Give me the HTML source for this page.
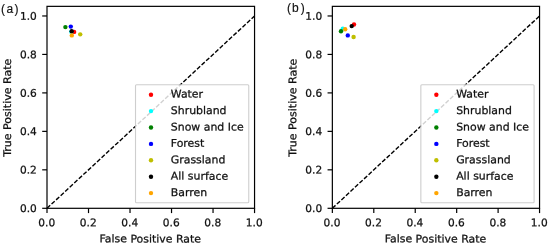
<!DOCTYPE html>
<html lang="en"><head><meta charset="utf-8"><title>ROC scatter</title>
<style>
html,body{margin:0;padding:0;background:#fff;}
body{width:550px;height:246px;overflow:hidden;}
svg{display:block;}
.t{font-family:"DejaVu Sans","Liberation Sans",sans-serif;font-size:10.55px;fill:#111;stroke:#111;stroke-width:0.25px;text-rendering:geometricPrecision;}
.p{font-family:"Liberation Sans",sans-serif;font-size:12px;fill:#111;stroke:#111;stroke-width:0.15px;}
</style></head><body>
<svg width="550" height="246" viewBox="0 0 550 246">
<rect width="550" height="246" fill="#fff"/>
<g transform="translate(0,0)">
<line x1="47.00" y1="208.30" x2="254.55" y2="15.97" stroke="#000" stroke-width="1.4" stroke-dasharray="4.327 1.871"/>
<circle cx="74.10" cy="31.90" r="2.2" fill="#ff0000"/>
<circle cx="71.30" cy="31.70" r="2.2" fill="#00ffff"/>
<circle cx="65.40" cy="27.10" r="2.2" fill="#008000"/>
<circle cx="70.80" cy="26.60" r="2.2" fill="#0000ff"/>
<circle cx="80.20" cy="34.35" r="2.2" fill="#bfbf00"/>
<circle cx="71.70" cy="31.30" r="2.2" fill="#000000"/>
<circle cx="71.80" cy="35.40" r="2.2" fill="#ffa500"/>
<rect x="135.50" y="84.80" width="113.25" height="117.90" rx="1" fill="#fff" fill-opacity="0.82" stroke="#c6c6c6" stroke-opacity="0.85" stroke-width="1.1"/>
<circle cx="151.00" cy="94.70" r="2.2" fill="#ff0000"/><text class="t" transform="translate(170.80,97.60) matrix(1,0.001,0,1,0,0) scale(1.035,1)">Water</text>
<circle cx="151.00" cy="111.10" r="2.2" fill="#00ffff"/><text class="t" transform="translate(170.80,114.00) matrix(1,0.001,0,1,0,0) scale(1.035,1)">Shrubland</text>
<circle cx="151.00" cy="127.50" r="2.2" fill="#008000"/><text class="t" transform="translate(170.80,130.40) matrix(1,0.001,0,1,0,0) scale(1.035,1)">Snow and Ice</text>
<circle cx="151.00" cy="143.90" r="2.2" fill="#0000ff"/><text class="t" transform="translate(170.80,146.80) matrix(1,0.001,0,1,0,0) scale(1.035,1)">Forest</text>
<circle cx="151.00" cy="160.30" r="2.2" fill="#bfbf00"/><text class="t" transform="translate(170.80,163.20) matrix(1,0.001,0,1,0,0) scale(1.035,1)">Grassland</text>
<circle cx="151.00" cy="176.70" r="2.2" fill="#000000"/><text class="t" transform="translate(170.80,179.60) matrix(1,0.001,0,1,0,0) scale(1.035,1)">All surface</text>
<circle cx="151.00" cy="193.10" r="2.2" fill="#ffa500"/><text class="t" transform="translate(170.80,196.00) matrix(1,0.001,0,1,0,0) scale(1.035,1)">Barren</text>
<rect x="47.00" y="6.35" width="207.55" height="201.95" fill="none" stroke="#000" stroke-width="1.2"/>
<line x1="47.00" y1="208.30" x2="47.00" y2="213.10" stroke="#000" stroke-width="1.2"/><text class="t" text-anchor="middle" style="font-size:10.5px" transform="translate(46.70,226.35) matrix(1,0.001,0,1,0,0) scale(1.01,1)">0.0</text>
<line x1="42.20" y1="208.30" x2="47.00" y2="208.30" stroke="#000" stroke-width="1.2"/><text class="t" text-anchor="end" style="font-size:10.5px" transform="translate(36.85,212.05) matrix(1,0.001,0,1,0,0) scale(1.01,1)">0.0</text>
<line x1="88.51" y1="208.30" x2="88.51" y2="213.10" stroke="#000" stroke-width="1.2"/><text class="t" text-anchor="middle" style="font-size:10.5px" transform="translate(88.21,226.35) matrix(1,0.001,0,1,0,0) scale(1.01,1)">0.2</text>
<line x1="42.20" y1="169.83" x2="47.00" y2="169.83" stroke="#000" stroke-width="1.2"/><text class="t" text-anchor="end" style="font-size:10.5px" transform="translate(36.85,173.58) matrix(1,0.001,0,1,0,0) scale(1.01,1)">0.2</text>
<line x1="130.02" y1="208.30" x2="130.02" y2="213.10" stroke="#000" stroke-width="1.2"/><text class="t" text-anchor="middle" style="font-size:10.5px" transform="translate(129.72,226.35) matrix(1,0.001,0,1,0,0) scale(1.01,1)">0.4</text>
<line x1="42.20" y1="131.37" x2="47.00" y2="131.37" stroke="#000" stroke-width="1.2"/><text class="t" text-anchor="end" style="font-size:10.5px" transform="translate(36.85,135.12) matrix(1,0.001,0,1,0,0) scale(1.01,1)">0.4</text>
<line x1="171.53" y1="208.30" x2="171.53" y2="213.10" stroke="#000" stroke-width="1.2"/><text class="t" text-anchor="middle" style="font-size:10.5px" transform="translate(171.23,226.35) matrix(1,0.001,0,1,0,0) scale(1.01,1)">0.6</text>
<line x1="42.20" y1="92.90" x2="47.00" y2="92.90" stroke="#000" stroke-width="1.2"/><text class="t" text-anchor="end" style="font-size:10.5px" transform="translate(36.85,96.65) matrix(1,0.001,0,1,0,0) scale(1.01,1)">0.6</text>
<line x1="213.04" y1="208.30" x2="213.04" y2="213.10" stroke="#000" stroke-width="1.2"/><text class="t" text-anchor="middle" style="font-size:10.5px" transform="translate(212.74,226.35) matrix(1,0.001,0,1,0,0) scale(1.01,1)">0.8</text>
<line x1="42.20" y1="54.43" x2="47.00" y2="54.43" stroke="#000" stroke-width="1.2"/><text class="t" text-anchor="end" style="font-size:10.5px" transform="translate(36.85,58.18) matrix(1,0.001,0,1,0,0) scale(1.01,1)">0.8</text>
<line x1="254.55" y1="208.30" x2="254.55" y2="213.10" stroke="#000" stroke-width="1.2"/><text class="t" text-anchor="middle" style="font-size:10.5px" transform="translate(254.25,226.35) matrix(1,0.001,0,1,0,0) scale(1.01,1)">1.0</text>
<line x1="42.20" y1="15.97" x2="47.00" y2="15.97" stroke="#000" stroke-width="1.2"/><text class="t" text-anchor="end" style="font-size:10.5px" transform="translate(36.85,19.72) matrix(1,0.001,0,1,0,0) scale(1.01,1)">1.0</text>
<text class="t" text-anchor="middle" transform="translate(150.28,242.40) matrix(1,0.001,0,1,0,0) scale(1.035,1)">False Positive Rate</text>
<text class="t" text-anchor="middle" transform="translate(11.00,107.78) rotate(-90) matrix(1,0.001,0,1,0,0) scale(1.045,1)">True Positive Rate</text>
<text class="p" x="1.10 6.45 14.50" y="13">(a)</text>
</g>
<g transform="translate(285.35,0)">
<line x1="47.00" y1="208.30" x2="254.20" y2="15.97" stroke="#000" stroke-width="1.4" stroke-dasharray="4.313 1.865"/>
<circle cx="68.65" cy="24.50" r="2.2" fill="#ff0000"/>
<circle cx="57.45" cy="28.80" r="2.2" fill="#00ffff"/>
<circle cx="55.65" cy="31.20" r="2.2" fill="#008000"/>
<circle cx="62.45" cy="35.40" r="2.2" fill="#0000ff"/>
<circle cx="68.25" cy="37.00" r="2.2" fill="#bfbf00"/>
<circle cx="66.35" cy="26.10" r="2.2" fill="#000000"/>
<circle cx="59.85" cy="29.30" r="2.2" fill="#ffa500"/>
<rect x="135.50" y="84.80" width="113.25" height="117.90" rx="1" fill="#fff" fill-opacity="0.82" stroke="#c6c6c6" stroke-opacity="0.85" stroke-width="1.1"/>
<circle cx="151.00" cy="94.70" r="2.2" fill="#ff0000"/><text class="t" transform="translate(170.80,97.60) matrix(1,0.001,0,1,0,0) scale(1.035,1)">Water</text>
<circle cx="151.00" cy="111.10" r="2.2" fill="#00ffff"/><text class="t" transform="translate(170.80,114.00) matrix(1,0.001,0,1,0,0) scale(1.035,1)">Shrubland</text>
<circle cx="151.00" cy="127.50" r="2.2" fill="#008000"/><text class="t" transform="translate(170.80,130.40) matrix(1,0.001,0,1,0,0) scale(1.035,1)">Snow and Ice</text>
<circle cx="151.00" cy="143.90" r="2.2" fill="#0000ff"/><text class="t" transform="translate(170.80,146.80) matrix(1,0.001,0,1,0,0) scale(1.035,1)">Forest</text>
<circle cx="151.00" cy="160.30" r="2.2" fill="#bfbf00"/><text class="t" transform="translate(170.80,163.20) matrix(1,0.001,0,1,0,0) scale(1.035,1)">Grassland</text>
<circle cx="151.00" cy="176.70" r="2.2" fill="#000000"/><text class="t" transform="translate(170.80,179.60) matrix(1,0.001,0,1,0,0) scale(1.035,1)">All surface</text>
<circle cx="151.00" cy="193.10" r="2.2" fill="#ffa500"/><text class="t" transform="translate(170.80,196.00) matrix(1,0.001,0,1,0,0) scale(1.035,1)">Barren</text>
<rect x="47.00" y="6.35" width="207.20" height="201.95" fill="none" stroke="#000" stroke-width="1.2"/>
<line x1="47.00" y1="208.30" x2="47.00" y2="213.10" stroke="#000" stroke-width="1.2"/><text class="t" text-anchor="middle" style="font-size:10.5px" transform="translate(46.70,226.35) matrix(1,0.001,0,1,0,0) scale(1.01,1)">0.0</text>
<line x1="42.20" y1="208.30" x2="47.00" y2="208.30" stroke="#000" stroke-width="1.2"/><text class="t" text-anchor="end" style="font-size:10.5px" transform="translate(36.85,212.05) matrix(1,0.001,0,1,0,0) scale(1.01,1)">0.0</text>
<line x1="88.44" y1="208.30" x2="88.44" y2="213.10" stroke="#000" stroke-width="1.2"/><text class="t" text-anchor="middle" style="font-size:10.5px" transform="translate(88.14,226.35) matrix(1,0.001,0,1,0,0) scale(1.01,1)">0.2</text>
<line x1="42.20" y1="169.83" x2="47.00" y2="169.83" stroke="#000" stroke-width="1.2"/><text class="t" text-anchor="end" style="font-size:10.5px" transform="translate(36.85,173.58) matrix(1,0.001,0,1,0,0) scale(1.01,1)">0.2</text>
<line x1="129.88" y1="208.30" x2="129.88" y2="213.10" stroke="#000" stroke-width="1.2"/><text class="t" text-anchor="middle" style="font-size:10.5px" transform="translate(129.58,226.35) matrix(1,0.001,0,1,0,0) scale(1.01,1)">0.4</text>
<line x1="42.20" y1="131.37" x2="47.00" y2="131.37" stroke="#000" stroke-width="1.2"/><text class="t" text-anchor="end" style="font-size:10.5px" transform="translate(36.85,135.12) matrix(1,0.001,0,1,0,0) scale(1.01,1)">0.4</text>
<line x1="171.32" y1="208.30" x2="171.32" y2="213.10" stroke="#000" stroke-width="1.2"/><text class="t" text-anchor="middle" style="font-size:10.5px" transform="translate(171.02,226.35) matrix(1,0.001,0,1,0,0) scale(1.01,1)">0.6</text>
<line x1="42.20" y1="92.90" x2="47.00" y2="92.90" stroke="#000" stroke-width="1.2"/><text class="t" text-anchor="end" style="font-size:10.5px" transform="translate(36.85,96.65) matrix(1,0.001,0,1,0,0) scale(1.01,1)">0.6</text>
<line x1="212.76" y1="208.30" x2="212.76" y2="213.10" stroke="#000" stroke-width="1.2"/><text class="t" text-anchor="middle" style="font-size:10.5px" transform="translate(212.46,226.35) matrix(1,0.001,0,1,0,0) scale(1.01,1)">0.8</text>
<line x1="42.20" y1="54.43" x2="47.00" y2="54.43" stroke="#000" stroke-width="1.2"/><text class="t" text-anchor="end" style="font-size:10.5px" transform="translate(36.85,58.18) matrix(1,0.001,0,1,0,0) scale(1.01,1)">0.8</text>
<line x1="254.20" y1="208.30" x2="254.20" y2="213.10" stroke="#000" stroke-width="1.2"/><text class="t" text-anchor="middle" style="font-size:10.5px" transform="translate(253.90,226.35) matrix(1,0.001,0,1,0,0) scale(1.01,1)">1.0</text>
<line x1="42.20" y1="15.97" x2="47.00" y2="15.97" stroke="#000" stroke-width="1.2"/><text class="t" text-anchor="end" style="font-size:10.5px" transform="translate(36.85,19.72) matrix(1,0.001,0,1,0,0) scale(1.01,1)">1.0</text>
<text class="t" text-anchor="middle" transform="translate(150.10,242.40) matrix(1,0.001,0,1,0,0) scale(1.035,1)">False Positive Rate</text>
<text class="t" text-anchor="middle" transform="translate(11.00,107.78) rotate(-90) matrix(1,0.001,0,1,0,0) scale(1.045,1)">True Positive Rate</text>
<text class="p" x="1.75 6.55 15.35" y="12">(b)</text>
</g>
</svg>
</body></html>
